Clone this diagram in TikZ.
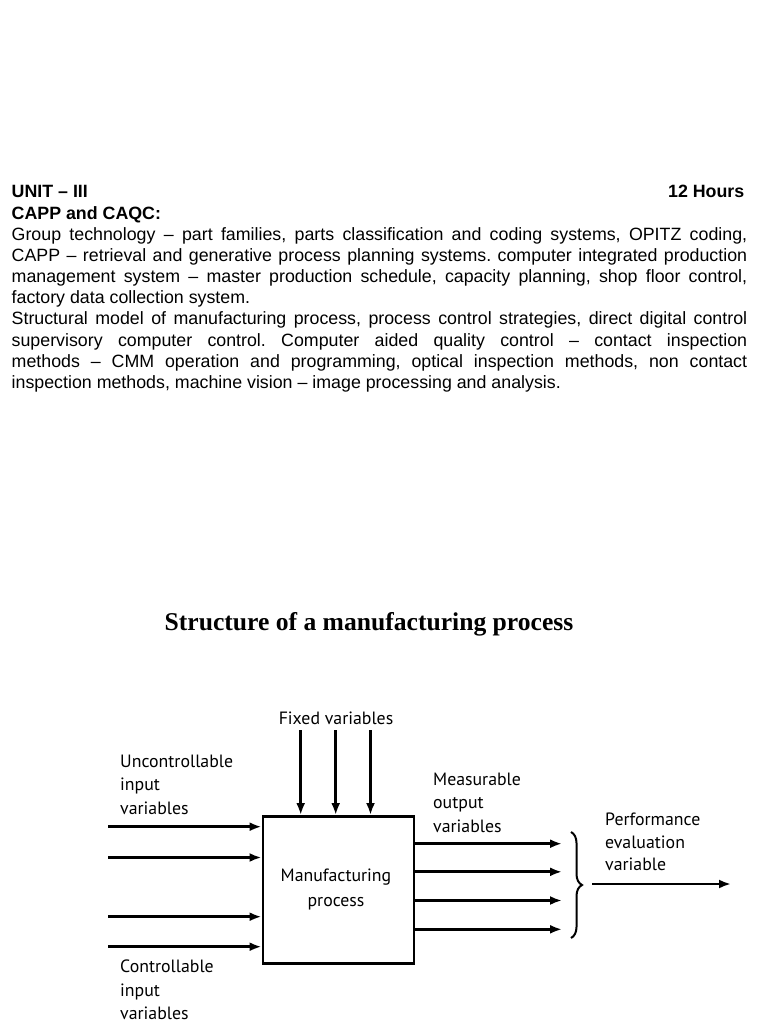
\documentclass[tikz,border=0pt]{standalone}
\usepackage{fontspec}
\setmainfont{Liberation Sans}
\newfontfamily\titlefont{Liberation Serif}
\newfontfamily\diafont{PT Sans}
\usetikzlibrary{arrows.meta,decorations.pathreplacing}
\frenchspacing
\begin{document}
\begin{tikzpicture}[x=1pt,y=-1pt,
  bodyline/.style={anchor=base west, inner sep=0pt, font=\fontsize{17.8}{21}\selectfont},
  boldline/.style={anchor=base west, inner sep=0pt, font=\bfseries\fontsize{17.8}{21}\selectfont},
  dlabel/.style={anchor=base west, inner sep=0pt, font=\diafont\fontsize{17.8}{21}\selectfont},
  flow/.style={line width=2.8pt, -{Latex[length=12pt,width=9pt]}},
  procbox/.style={draw, line width=2.6pt, inner sep=0pt, anchor=north west, minimum width=151pt, minimum height=147pt}]
\useasboundingbox (0,0) rectangle (768,1024);
\fill[white] (0,0) rectangle (768,1024);

% ---- text block ----
\node[boldline] (unit) at (11.5,198) {UNIT – III};
\node[boldline, anchor=base east] (hours) at (744.5,198) {12 Hours};
\node[boldline] (capp) at (11.5,219.15) {CAPP and CAQC:};
\node[bodyline] (t1) at (11.5,240.3) {\makebox[735.5pt][s]{Group technology – part families, parts classification and coding systems, OPITZ coding,}};
\node[bodyline] (t2) at (11.5,261.45) {\makebox[735.5pt][s]{CAPP – retrieval and generative process planning systems. computer integrated production}};
\node[bodyline] (t3) at (11.5,282.6) {\makebox[735.5pt][s]{management system – master production schedule, capacity planning, shop floor control,}};
\node[bodyline] (t4) at (11.5,303.75) {factory data collection system.};
\node[bodyline] (t5) at (11.5,324.9) {\makebox[735.5pt][s]{Structural model of manufacturing process, process control strategies, direct digital control}};
\node[bodyline] (t6) at (11.5,346.05) {\makebox[735.5pt][s]{supervisory computer control. Computer aided quality control – contact inspection}};
\node[bodyline] (t7) at (11.5,367.2) {\makebox[735.5pt][s]{methods – CMM operation and programming, optical inspection methods, non contact}};
\node[bodyline] (t8) at (11.5,388.35) {inspection methods, machine vision – image processing and analysis.};

% ---- title ----
\node[anchor=base, inner sep=0pt, font=\titlefont\bfseries\fontsize{25.6}{30}\selectfont] (title) at (369,630) {Structure of a manufacturing process};

% ---- diagram ----
\node[procbox] (mp) at (261.5,815) {};
\node[dlabel, anchor=base] (mp1) at (336,881.7) {Manufacturing};
\node[dlabel, anchor=base] (mp2) at (336,906.7) {process};

% fixed variables
\node[dlabel, anchor=base] (fixed) at (336,724) {Fixed variables};
\coordinate (f1) at (300.7,730);
\coordinate (f2) at (335.7,730);
\coordinate (f3) at (370.5,730);
\foreach \f in {f1,f2,f3} \draw[flow] (\f) -- (\f |- mp.north);

% inputs
\coordinate (i1) at (108,826.7);
\coordinate (i2) at (108,857.5);
\coordinate (i3) at (108,916.7);
\coordinate (i4) at (108,946.7);
\foreach \i in {i1,i2,i3,i4} \draw[flow] (\i) -- (\i -| mp.west);

\node[dlabel] (unc1) at (120,767.3) {Uncontrollable};
\node[dlabel] (unc2) at (120,790.5) {input};
\node[dlabel] (unc3) at (120,814) {variables};

\node[dlabel] (con1) at (120,972.7) {Controllable};
\node[dlabel] (con2) at (120,996) {input};
\node[dlabel] (con3) at (120,1019.3) {variables};

% outputs
\coordinate (o1) at (562,843.7);
\coordinate (o2) at (562,871.8);
\coordinate (o3) at (562,900.5);
\coordinate (o4) at (562,929.3);
\foreach \o in {o1,o2,o3,o4} \draw[flow] (\o -| mp.east) -- (\o);

\node[dlabel] (meas1) at (433,785) {Measurable};
\node[dlabel] (meas2) at (433,808.5) {output};
\node[dlabel] (meas3) at (433,832) {variables};

% brace and performance
\coordinate (b1) at (571,832);
\coordinate (b2) at (571,938);
\draw[decorate, decoration={brace, amplitude=11pt}, line width=2pt] (b1) -- (b2);
\coordinate (p1) at (592,884);
\coordinate (p2) at (731,884);
\draw[flow] (p1) -- (p2);

\node[dlabel] (perf1) at (605,825) {Performance};
\node[dlabel] (perf2) at (605,848.3) {evaluation};
\node[dlabel] (perf3) at (605,870.7) {variable};
\end{tikzpicture}
\end{document}
